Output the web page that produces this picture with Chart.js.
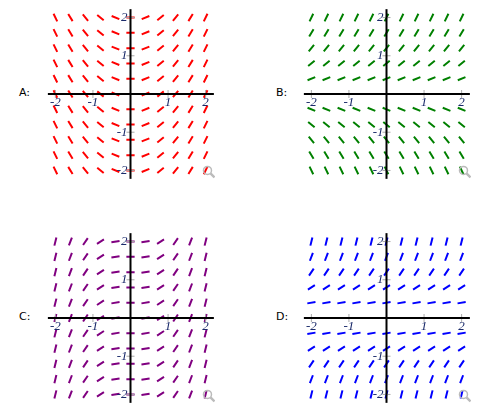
<!DOCTYPE html>
<html><head><meta charset="utf-8">
<script src="https://cdn.jsdelivr.net/npm/chart.js@4.4.1/dist/chart.umd.min.js"></script>
<style>
body{margin:0;background:#fff;width:499px;height:411px;position:relative;overflow:hidden;font-family:'DejaVu Sans',sans-serif}
.box{position:absolute;width:169px;height:172px}
.lbl{position:absolute;font-size:11px;color:#000}
</style></head><body>
<div class="lbl" style="left:19px;top:86px">A:</div>
<div class="lbl" style="left:276px;top:86px">B:</div>
<div class="lbl" style="left:19px;top:310px">C:</div>
<div class="lbl" style="left:276px;top:310px">D:</div>
<div class="box" style="left:46px;top:8px"><canvas id="cA"></canvas></div>
<div class="box" style="left:302px;top:8px"><canvas id="cB"></canvas></div>
<div class="box" style="left:46px;top:232px"><canvas id="cC"></canvas></div>
<div class="box" style="left:302px;top:232px"><canvas id="cD"></canvas></div>
<script>
// grid of sample points (same for x and y)
var gridPts = [-2, -1.6, -1.2, -0.8, -0.4, 0, 0.4, 0.8, 1.2, 1.6, 2];
// slopes: A and C vary by column, B and D by row
var slopesA = [-2, -1.6, -1.2, -0.8, -0.4, 0, 0.4, 0.8, 1.2, 1.6, 2];
var slopesB = [-2, -1.6, -1.2, -0.8, -0.4, 0, 0.4, 0.8, 1.2, 1.6, 2];
var slopesC = [4, 2.56, 1.44, 0.64, 0.16, 0, 0.16, 0.64, 1.44, 2.56, 4];
var slopesD = [4, 2.56, 1.44, 0.64, 0.16, 0, 0.16, 0.64, 1.44, 2.56, 4];
var xTicks = [-2, -1, 1, 2];
var yTicks = [-2, -1, 1, 2];
var SEG = 0.22;

function segments(slopes, byRow) {
  var pts = [];
  gridPts.forEach(function(x, i) {
    gridPts.forEach(function(y, j) {
      var m = byRow ? slopes[j] : slopes[i];
      var dx = SEG / 2 / Math.sqrt(1 + m * m);
      pts.push({ x: x - dx, y: y - m * dx }, { x: x + dx, y: y + m * dx }, { x: x, y: null });
    });
  });
  return pts;
}

var axesPlugin = {
  afterDraw: function(chart) {
    var ctx = chart.ctx, sx = chart.scales.x, sy = chart.scales.y;
    var x0 = sx.getPixelForValue(0), y0 = sy.getPixelForValue(0);
    ctx.save();
    ctx.strokeStyle = '#aaa'; ctx.lineWidth = 1;
    xTicks.forEach(function(v) { var p = sx.getPixelForValue(v); ctx.beginPath(); ctx.moveTo(p, y0 - 4); ctx.lineTo(p, y0 + 4); ctx.stroke(); });
    yTicks.forEach(function(v) { var p = sy.getPixelForValue(v); ctx.beginPath(); ctx.moveTo(x0 - 4, p); ctx.lineTo(x0 + 4, p); ctx.stroke(); });
    ctx.strokeStyle = '#000'; ctx.lineWidth = 2;
    ctx.beginPath(); ctx.moveTo(sx.getPixelForValue(-2.2), y0); ctx.lineTo(sx.getPixelForValue(2.22), y0); ctx.stroke();
    ctx.beginPath(); ctx.moveTo(x0, sy.getPixelForValue(2.22)); ctx.lineTo(x0, sy.getPixelForValue(-2.22)); ctx.stroke();
    ctx.font = "italic 13px 'Liberation Serif', serif"; ctx.fillStyle = '#1a2a6a';
    ctx.textAlign = 'center'; ctx.textBaseline = 'top';
    xTicks.forEach(function(v) { ctx.fillText(String(v), sx.getPixelForValue(v), y0 + 2); });
    ctx.textAlign = 'right'; ctx.textBaseline = 'middle';
    yTicks.forEach(function(v) { ctx.fillText(String(v), x0 - 3, sy.getPixelForValue(v)); });
    // magnifier icon
    var mx = sx.getPixelForValue(2.05), my = sy.getPixelForValue(-2);
    ctx.strokeStyle = '#bbb'; ctx.lineWidth = 1.5;
    ctx.beginPath(); ctx.arc(mx, my, 4, 0, Math.PI * 2); ctx.stroke();
    ctx.lineWidth = 2.5; ctx.beginPath(); ctx.moveTo(mx + 3, my + 3); ctx.lineTo(mx + 7, my + 7); ctx.stroke();
    ctx.restore();
  }
};

function field(id, slopes, byRow, color) {
  return new Chart(document.getElementById(id).getContext('2d'), {
    type: 'scatter',
    data: { datasets: [{ data: segments(slopes, byRow), showLine: true, spanGaps: false, borderColor: color, borderWidth: 2, pointRadius: 0 }] },
    options: {
      responsive: true, maintainAspectRatio: false, animation: false,
      layout: { padding: 0 },
      scales: { x: { display: false, min: -2.25, max: 2.25 }, y: { display: false, min: -2.25, max: 2.25 } },
      plugins: { legend: { display: false }, tooltip: { enabled: false } }
    },
    plugins: [axesPlugin]
  });
}

field('cA', slopesA, false, '#ff0000');
field('cB', slopesB, true, '#008000');
field('cC', slopesC, false, '#800080');
field('cD', slopesD, true, '#0000ff');
</script>
</body></html>
